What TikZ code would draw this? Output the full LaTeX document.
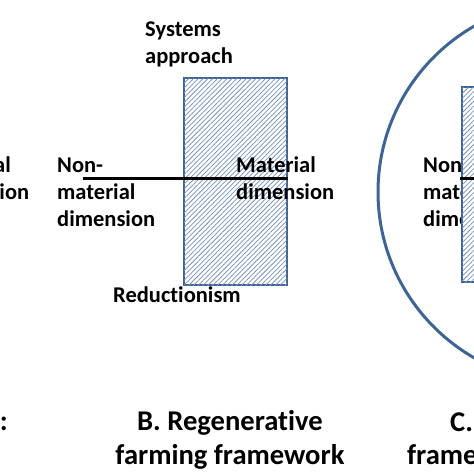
\documentclass[tikz,border=0pt]{standalone}
\usepackage{fontspec}
\setmainfont{Carlito}[Ligatures=NoCommon]
\usetikzlibrary{patterns.meta}
\definecolor{frameblue}{RGB}{62,100,150}
\definecolor{hatchblue}{RGB}{120,145,182}
\begin{document}
\begin{tikzpicture}[x=1pt,y=-1pt,
  lbl/.style={inner sep=0pt, anchor=base west, align=left, font=\fontsize{22.5}{27}\selectfont\bfseries},
  ttl/.style={inner sep=0pt, anchor=base, align=center, font=\fontsize{28.6}{34}\selectfont\bfseries},
  hatchbox/.style={draw=frameblue, line width=2.5pt, fill=white,
    postaction={pattern={Lines[angle=45,distance=3.4pt,line width=0.75pt]}, pattern color=hatchblue}},
  axisline/.style={line width=3pt, black},
  ring/.style={draw=frameblue, line width=3pt}]
\useasboundingbox (0,0) rectangle (474,474);
\clip (0,0) rectangle (474,474);
% panel A remnants
\node[lbl] (amat) at (-69,199) {Material\\dimension};
\node[ttl, anchor=base east] (atitle) at (8,430) {g:};
% panel B
\node[hatchbox, minimum width=103pt, minimum height=207pt, inner sep=0pt] (rb) at (235.5,181.5) {};
\coordinate (lb) at (83,178);
\draw[axisline] (lb) -- (lb -| rb.east);
\node[lbl] (bsys) at (145,63) {Systems\\approach};
\node[lbl] (bnon) at (57,226) {Non-\\material\\dimension};
\node[lbl] (bmat) at (236,199) {Material\\dimension};
\node[lbl] (bred) at (113,302) {Reductionism};
\node[ttl] (btitle) at (230,464) {B. Regenerative\\farming framework};
% panel C
\node[ring, circle, minimum size=382pt, inner sep=0pt] (cring) at (569,192) {};
\node[lbl] (cnon) at (423,226) {Non-\\material\\dimension};
\node[hatchbox, minimum width=40pt, minimum height=195pt, inner sep=0pt] (rc) at (482,184.5) {};
\coordinate (lc) at (460,178);
\draw[axisline] (lc) -- (lc -| rc.east);
\node[ttl, anchor=base west] (ctitle) at (450,431) {C.};
\node[ttl, anchor=base west] (cframe) at (407,464) {framework};
\end{tikzpicture}
\end{document}
